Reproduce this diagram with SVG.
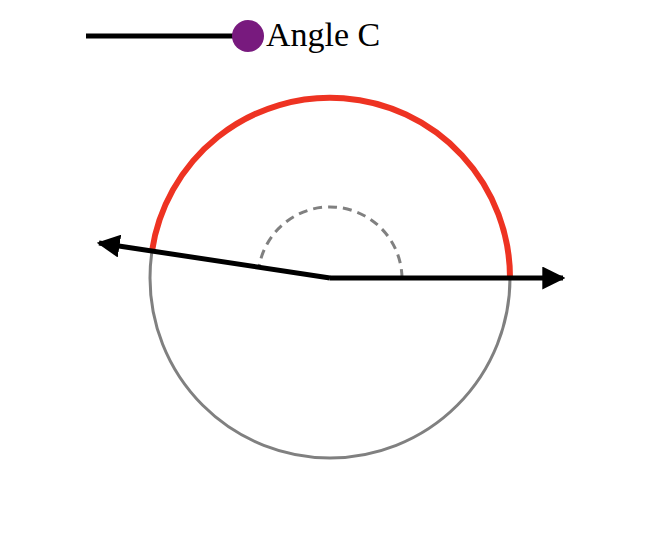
<svg xmlns="http://www.w3.org/2000/svg" width="648" height="536" viewBox="0 0 648 536">
<style>
.ray{stroke:#000;stroke-width:5;fill:none}
.lbl{font-family:"Liberation Serif",serif;font-size:34px;fill:#000}
</style>
<defs>
<marker id="ah" viewBox="0 0 10 10" refX="9" refY="5" markerWidth="4.6" markerHeight="4.6" orient="auto" markerUnits="strokeWidth">
<path d="M0,0 L10,5 L0,10 z" fill="#000"/>
</marker>
</defs>
<rect width="648" height="536" fill="#fff"/>
<g id="legend">
<line x1="86" y1="36" x2="248" y2="36" stroke="#000" stroke-width="5"/>
<circle cx="248" cy="36" r="16" fill="#781A7E"/>
<text class="lbl" x="266" y="46">Angle C</text>
</g>
<g id="circle">
<circle cx="330" cy="278" r="180" fill="none" stroke="#808080" stroke-width="3"/>
<path d="M510,278 A180,180 0 0 0 152,251" fill="none" stroke="#EE3322" stroke-width="6"/>
<path d="M402,278 A72,72 0 0 0 259,267" fill="none" stroke="#808080" stroke-width="3" stroke-dasharray="9,6"/>
</g>
<g id="connectors">
<line class="ray" x1="330" y1="278" x2="563" y2="278" marker-end="url(#ah)"/>
<line class="ray" x1="330" y1="278" x2="99" y2="243" marker-end="url(#ah)"/>
</g>
</svg>
